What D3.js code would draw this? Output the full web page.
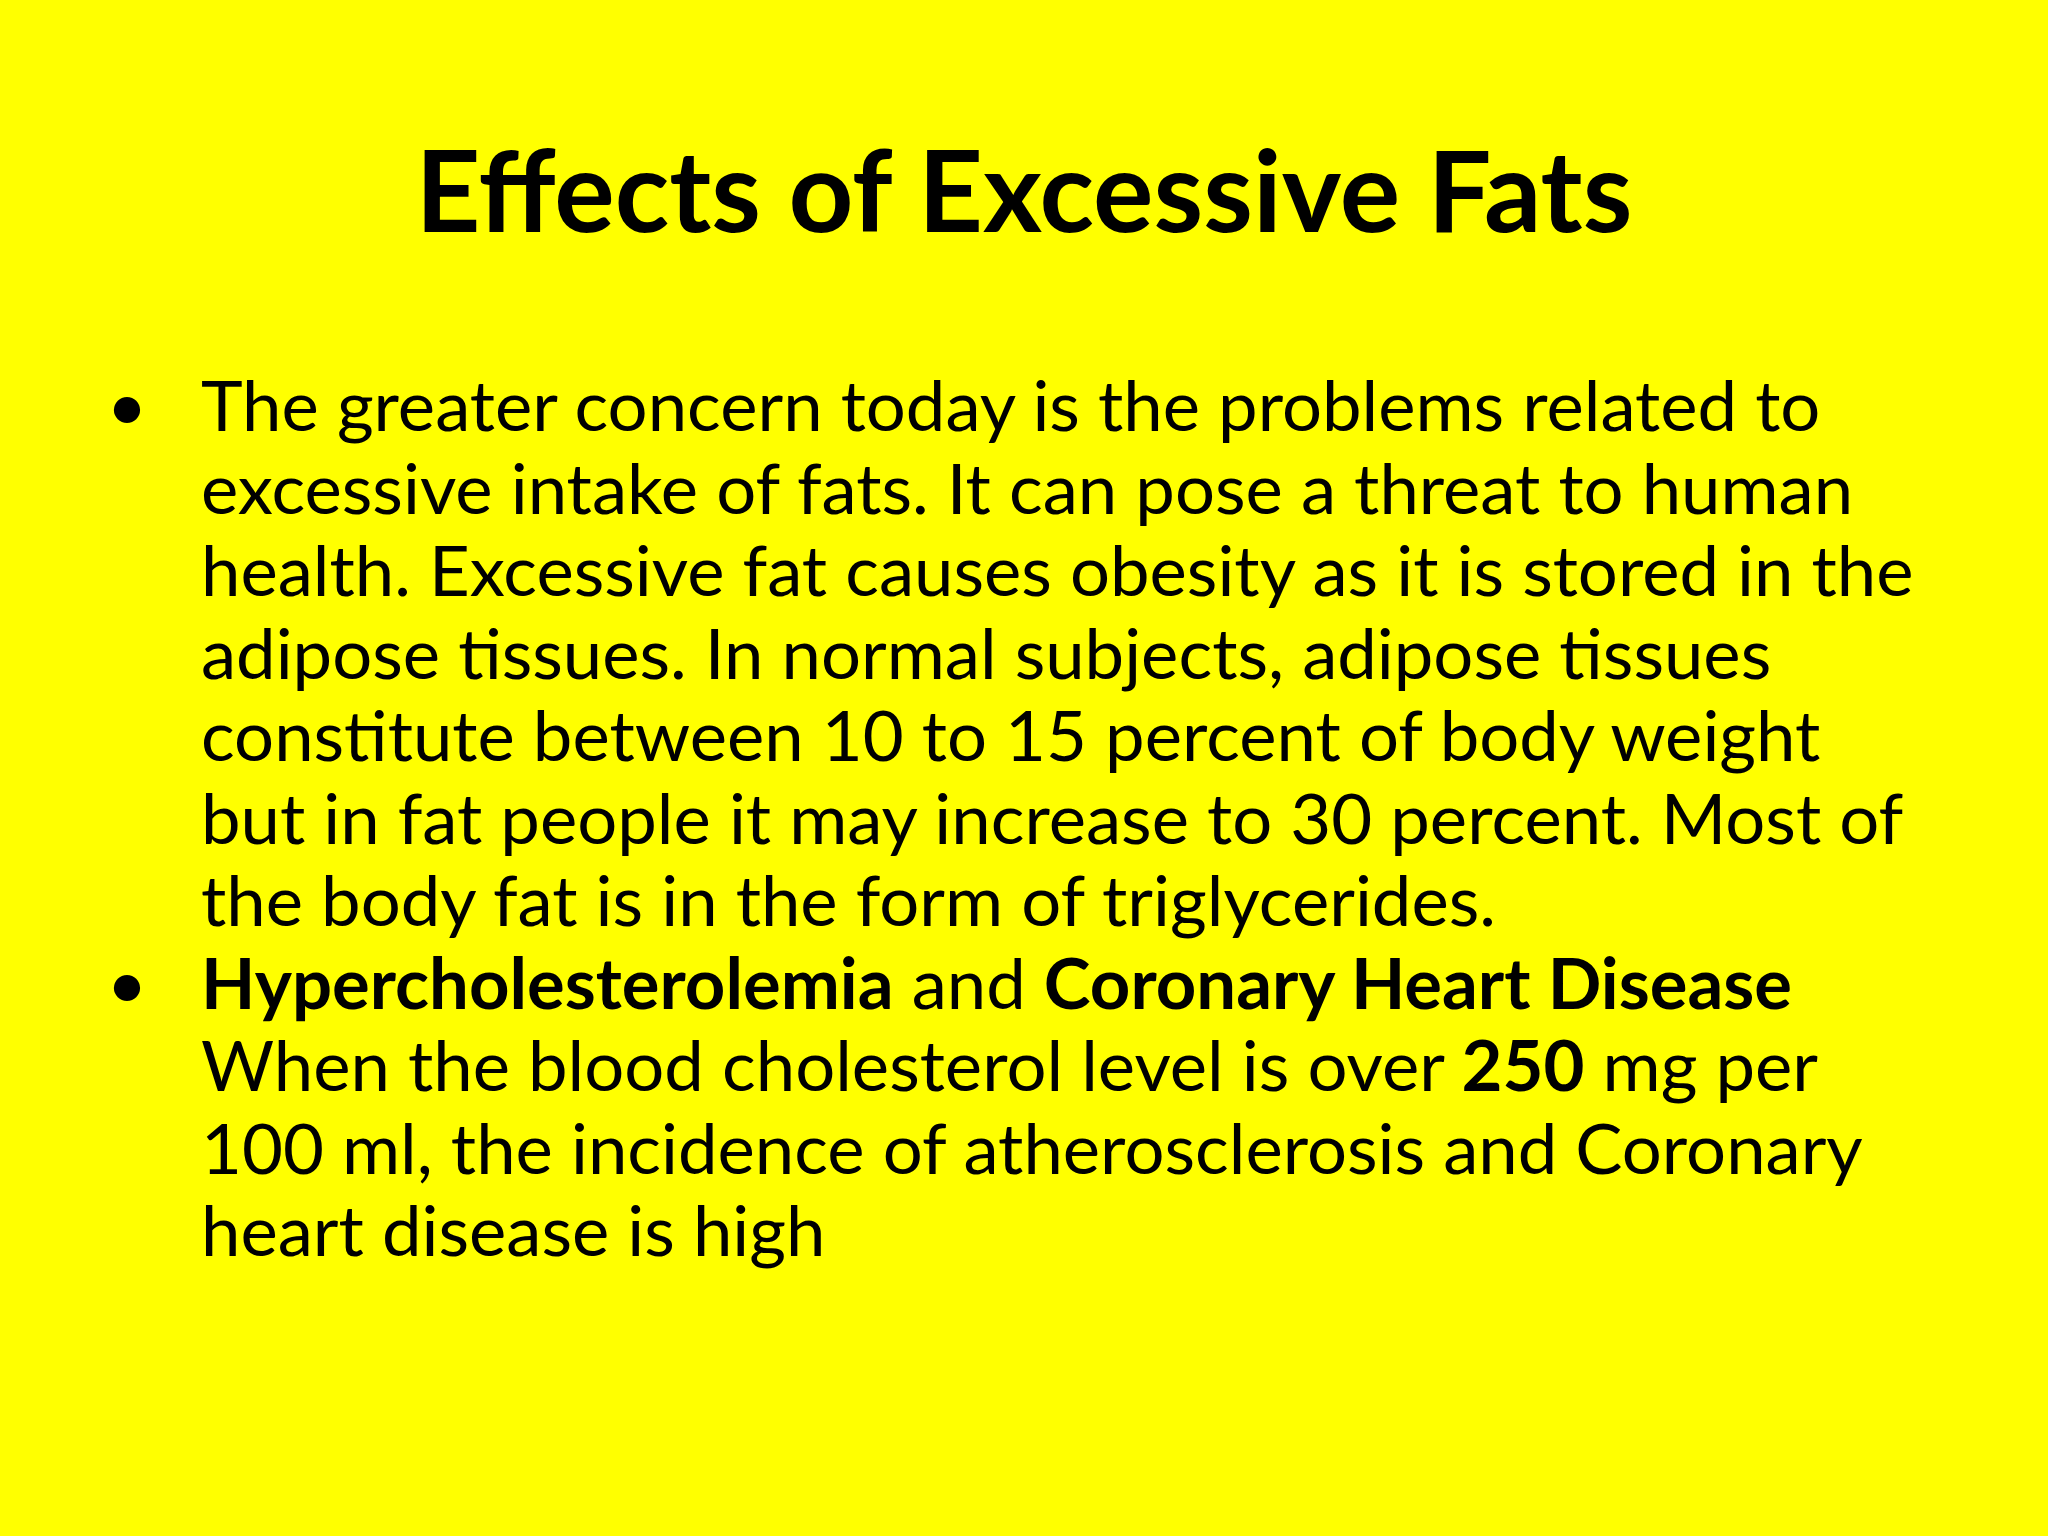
<!DOCTYPE html>
<html><head><meta charset="utf-8">
<script src="https://cdn.jsdelivr.net/npm/d3@7"></script>
<style>html,body{margin:0;padding:0;background:#ffff00;}</style>
</head><body>
<script>
const titleText = "Effects of Excessive Fats";
// each line: array of [text, bold]; bullet flag
const bulletStarts = [0, 7];
const lines = [
 [["The greater concern today is the problems related to",0]],
 [["excessive intake of fats. It can pose a threat to human",0]],
 [["health. Excessive fat causes obesity as it is stored in the",0]],
 [["adipose tissues. In normal subjects, adipose tissues",0]],
 [["constitute between 10 to 15 percent of body weight",0]],
 [["but in fat people it may increase to 30 percent. Most of",0]],
 [["the body fat is in the form of triglycerides.",0]],
 [["Hypercholesterolemia",1],[" and ",0],["Coronary Heart Disease",1]],
 [["When the blood cholesterol level is over ",0],["250",1],[" mg per",0]],
 [["100 ml, the incidence of atherosclerosis and Coronary",0]],
 [["heart disease is high",0]]
];
const W=2048,H=1536,font="Lato, 'Open Sans', sans-serif";
const svg=d3.select("body").append("svg").attr("width",W).attr("height",H);
svg.append("rect").attr("width",W).attr("height",H).attr("fill","#ffff00");
const t=svg.append("text").attr("x",1024).attr("y",232).attr("text-anchor","middle")
 .attr("font-family",font).attr("font-weight","bold").attr("font-size",110).attr("fill","#000").text(titleText);
const tw=t.node().getComputedTextLength();
t.attr("font-size",110*1217/tw);
const y=d3.scaleLinear().domain([0,1]).range([431,513.5]);
// measure font size from reference line 2 width
const probe=svg.append("text").attr("font-family",font).attr("font-size",60).text(lines[2][0][0]);
const fs=60*1713/probe.node().getComputedTextLength(); probe.remove();
lines.forEach((ln,i)=>{
  const tx=svg.append("text").attr("x",201).attr("y",y(i)).attr("font-family",font).attr("font-size",fs).attr("fill","#000").attr("xml:space","preserve");
  ln.forEach(s=>tx.append("tspan").attr("font-weight",s[1]?"bold":"normal").text(s[0]));
  if(bulletStarts.includes(i)) svg.append("text").attr("x",127).attr("y",y(i)).attr("font-family",font).attr("font-size",fs).attr("text-anchor","middle").text("•");
});
</script>
</body></html>
